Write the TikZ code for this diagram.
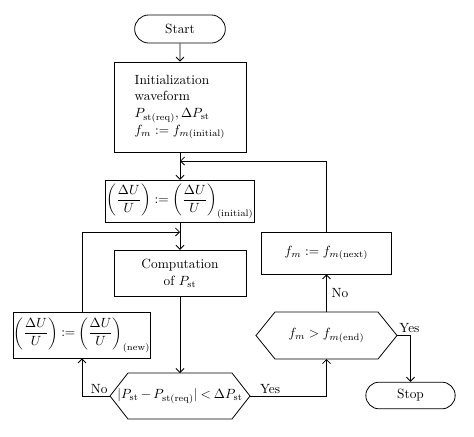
\documentclass[tikz,border=0pt]{standalone}
\usepackage{amsmath}
\usetikzlibrary{arrows.meta, shapes.misc}

% hexagon frame round a test node: name, half top width, half width, half height
\newcommand{\testframe}[4]{%
    \draw[shift={(#1.center)}]
        (-#2, -#4) -- (#2, -#4) -- (#3, 0) coordinate (#1-e) --
        (#2, #4) -- (-#2, #4) -- (-#3, 0) coordinate (#1-w) -- cycle;}

\begin{document}
\begin{tikzpicture}
    [x=.75pt, y=-.75pt, semithick,
     >={Straight Barb[length=3pt, width=6pt]},
     every node/.style={font=\fontsize{10}{12.5}\selectfont},
     box/.style={draw, rectangle, inner sep=.5pt},
     term/.style={draw, rounded rectangle, inner sep=2pt},
     test/.style={inner sep=0pt},
     lbl/.style={inner sep=1.5pt},
    ]
    \useasboundingbox (0, 0) rectangle (474, 436);

    % Terminals
    \node[term, minimum width=72pt, minimum height=21pt] (start) at (180, 29) {Start};
    \node[term, minimum width=71pt, minimum height=20pt] (stop) at (410.5, 395.5) {Stop};

    % Main column
    \node[box, minimum width=99pt, minimum height=67.5pt, align=left] (init) at (180, 107)
        {Initialization\\ waveform\\
         $P_{\mathrm{st(req)}}, \Delta P_{\mathrm{st}}$\\
         $f_m := f_{m(\mathrm{initial})}$};
    \node[box, minimum width=104pt, minimum height=32pt] (du) at (180, 201.5)
        {$\biggl(\dfrac{\Delta U}{U}\biggr) := \biggl(\dfrac{\Delta U}{U}\biggr)_{(\mathrm{initial})}$};
    \node[box, minimum width=99pt, minimum height=35pt, align=center] (comp) at (180, 273.5)
        {Computation\\ of $P_{\mathrm{st}}$};
    \node[test] (dev) at (180, 396)
        {$\medmuskip=3mu\thickmuskip=4mu
          |P_{\mathrm{st}} - P_{\mathrm{st(req)}}| < \Delta P_{\mathrm{st}}$};
    \testframe{dev}{52}{70}{23}

    % Side columns
    \node[box, minimum width=99pt, minimum height=34.5pt] (dunew) at (82, 335)
        {$\thickmuskip=4mu
          \biggl(\dfrac{\Delta U}{U}\biggr) := \biggl(\dfrac{\Delta U}{U}\biggr)_{(\mathrm{new})}$};
    \node[test] (fend) at (326.5, 335.5) {$f_m > f_{m(\mathrm{end})}$};
    \testframe{fend}{51.5}{70.5}{23.5}
    \node[box, minimum width=98pt, minimum height=31.5pt] (fnext) at (326.5, 253)
        {$f_m := f_{m(\mathrm{next})}$};

    % Join points
    \coordinate (j1) at (180, 161);
    \coordinate (j2) at (180, 232);

    \draw[->] (start) -- (init);
    \draw[->] (init) -- (du);
    \draw[->] (du) -- (comp);
    \draw[->] (comp) -- (dev |- 0, 373);
    \draw[->] (fnext.north) |- (j1);
    \draw[->] (dunew.north) |- (j2);
    \draw[->] (dev-w) -| (dunew.south)
        node[pos=0, anchor=south east, lbl] {No};
    \draw[->] (dev-e) -| (fend |- 0, 359)
        node[pos=.05, anchor=south west, lbl] {Yes};
    \draw[->] (fend |- 0, 312) -- (fnext.south)
        node[midway, right, lbl, xshift=2pt] {No};
    \draw[->] (fend-e) -| (stop.north)
        node[pos=0, anchor=south west, lbl] {Yes};
\end{tikzpicture}
\end{document}
